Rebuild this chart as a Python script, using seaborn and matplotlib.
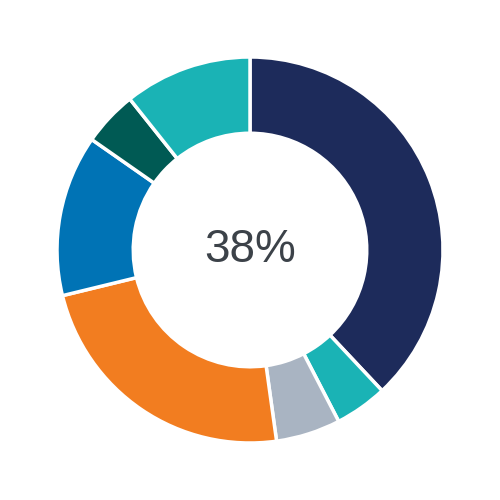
import matplotlib
matplotlib.use("Agg")
import matplotlib.pyplot as plt
import seaborn as sns

categories = ["A", "B", "C", "D", "E", "F", "G"]
values = [38.0, 4.4, 5.4, 23.4, 13.5, 4.6, 10.7]
colors = ["#1d2b5b", "#1ab3b5", "#a9b4c2", "#f27d20", "#0073b5", "#005a54", "#1ab3b5"]
center_label = "38%"

sns.set_theme(style="white")
plt.rcParams['font.family'] = ['Liberation Sans', 'DejaVu Sans']

fig = plt.figure(figsize=(5, 5), dpi=100)
ax = fig.add_axes([0, 0, 1, 1])
palette = sns.color_palette(colors)
ax.pie(values, colors=palette, startangle=90, counterclock=False, radius=1.0,
       wedgeprops=dict(width=0.395, edgecolor="white", linewidth=2.5))
ax.text(0, 0, center_label, ha="center", va="center", fontsize=33, color="#3c4249")
lim = 250 / 193
ax.set_xlim(-lim, lim)
ax.set_ylim(-lim, lim)
ax.set_aspect("equal")
ax.axis("off")
fig.savefig("out.png", dpi=100, facecolor="white")
